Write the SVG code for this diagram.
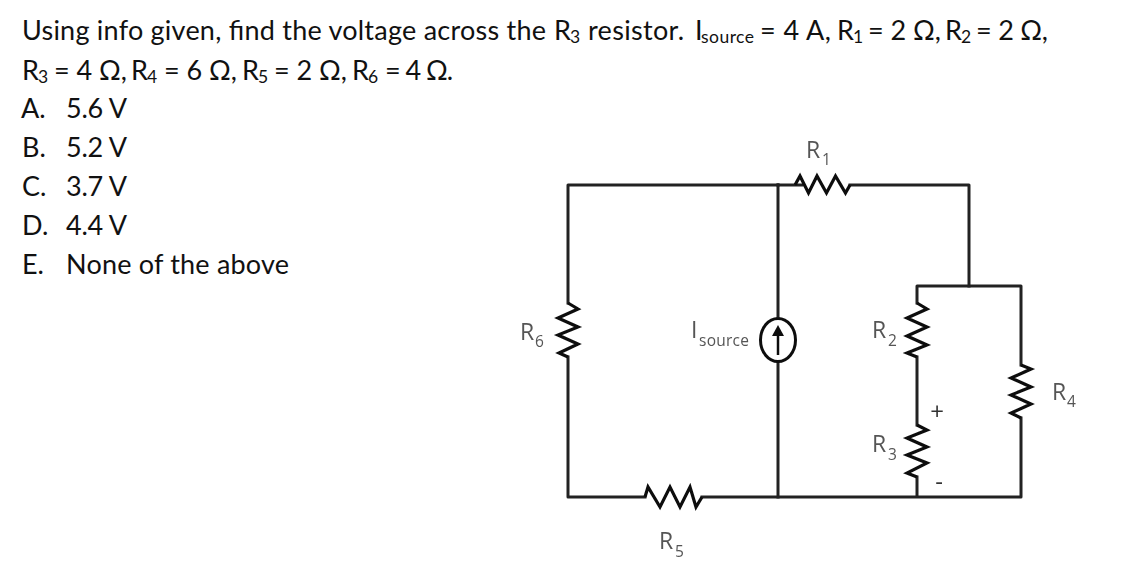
<svg xmlns="http://www.w3.org/2000/svg" width="1142" height="580" viewBox="0 0 1142 580">
<style>
.q{font-family:"Lato","Liberation Sans",sans-serif;font-size:27px;fill:#111}
.qs{font-family:"Lato","Liberation Sans",sans-serif;font-size:17.5px;fill:#111}
.l{font-family:"Open Sans","Liberation Sans",sans-serif;font-size:23px;fill:#555}
.ls{font-family:"Open Sans","Liberation Sans",sans-serif;font-size:15.500px;fill:#555}
.p{font-family:"Open Sans","Liberation Sans",sans-serif;font-size:24px;fill:#333;text-anchor:middle}
.w{fill:none;stroke:#222;stroke-width:3;stroke-linejoin:round;stroke-linecap:square}
.z{fill:none;stroke:#111;stroke-width:3.200;stroke-linejoin:miter;stroke-linecap:butt}
</style>
<defs><filter id="soft" x="-5%" y="-5%" width="110%" height="110%"><feGaussianBlur stdDeviation="0.35"/></filter></defs>
<rect width="1142" height="580" fill="#fff"/>
<g id="question">
<text class="q" x="22" y="40" textLength="524">Using info given, find the voltage across the</text>
<text class="q" x="554" y="40">R</text><text class="qs" x="570" y="43">3</text>
<text class="q" x="588" y="40" textLength="96">resistor.</text>
<text class="q" x="695" y="40">I</text><text class="qs" x="701" y="43" textLength="53">source</text>
<text class="q" x="760" y="40" textLength="71">= 4 A,</text>
<text class="q" x="837" y="40">R</text><text class="qs" x="853" y="43">1</text>
<text class="q" x="868" y="40" textLength="73">= 2 Ω,</text>
<text class="q" x="945" y="40">R</text><text class="qs" x="961" y="43">2</text>
<text class="q" x="976" y="40" textLength="72">= 2 Ω,</text>
<text class="q" x="22" y="80">R</text><text class="qs" x="38" y="83">3</text>
<text class="q" x="54" y="80" textLength="73">= 4 Ω,</text>
<text class="q" x="131" y="80">R</text><text class="qs" x="147" y="83">4</text>
<text class="q" x="164" y="80" textLength="73">= 6 Ω,</text>
<text class="q" x="242" y="80">R</text><text class="qs" x="258" y="83">5</text>
<text class="q" x="274" y="80" textLength="73">= 2 Ω,</text>
<text class="q" x="352" y="80">R</text><text class="qs" x="368" y="83">6</text>
<text class="q" x="385" y="80" textLength="68">= 4 Ω.</text>
<text class="q" x="21" y="118">A.</text><text class="q" x="66" y="118" textLength="61">5.6 V</text>
<text class="q" x="22" y="157">B.</text><text class="q" x="66" y="157" textLength="61">5.2 V</text>
<text class="q" x="22" y="196">C.</text><text class="q" x="66" y="196" textLength="61">3.7 V</text>
<text class="q" x="22" y="235">D.</text><text class="q" x="66" y="235" textLength="61">4.4 V</text>
<text class="q" x="22" y="274">E.</text><text class="q" x="66" y="274" textLength="223">None of the above</text>
</g>
<g id="circuit" filter="url(#soft)">
<g id="connectors">
<path class="w" d="M802 185H778M850 185H969V286"/>
<path class="w" d="M778 185H568V303M568 357V497H645M702 497H1021V418M1021 365V286H917V303M917 357V425M917 477V497"/>
<path class="w" d="M778 185V318M778 362V497"/>
</g>
<g id="R1"><polyline class="z" points="795,185 800,176 808.500,193 817,176 826.500,193 835.500,176 845.500,193 850,185"/><text class="l" x="806" y="158">R</text><text class="ls" x="822" y="165">1</text></g>
<g id="R2"><polyline class="z" points="917,303 927,309 907,318 927,327 907,336 927,345 907,353 917,357"/><text class="l" x="872" y="338">R</text><text class="ls" x="888" y="346">2</text></g>
<g id="R3"><polyline class="z" points="917,425 927,430 907,438 927,447 907,455 927,463 907,473 917,477"/><text class="l" x="872" y="452">R</text><text class="ls" x="888" y="460">3</text></g>
<g id="R4"><polyline class="z" points="1021,365 1031,369 1011,378 1031,387 1011,395 1031,404 1011,413 1021,418"/><text class="l" x="1052" y="400">R</text><text class="ls" x="1067" y="407">4</text></g>
<g id="R5"><polyline class="z" points="645,497 648,487 660,507 670,487 680,507 690,487 696,507 702,497"/><text class="l" x="659" y="549">R</text><text class="ls" x="675" y="557">5</text></g>
<g id="R6"><polyline class="z" points="568,303 578,309 558,318 578,327 558,335 578,344 559,353 568,357"/><text class="l" x="520" y="340">R</text><text class="ls" x="535" y="347">6</text></g>
<g id="Isource">
<ellipse cx="778" cy="340" rx="17.500" ry="21.500" fill="#fff" stroke="#111" stroke-width="3"/>
<path d="M778 355V334" stroke="#111" stroke-width="2.500" fill="none"/>
<path d="M778 325L784 336H772Z" fill="#111"/>
<text class="l" x="691" y="338">I</text><text class="ls" x="699" y="346" textLength="50">source</text>
</g>
<g id="polarity">
<text class="p" x="937" y="420">+</text>
<text class="p" x="939" y="490">-</text>
</g>
</g>
</svg>
